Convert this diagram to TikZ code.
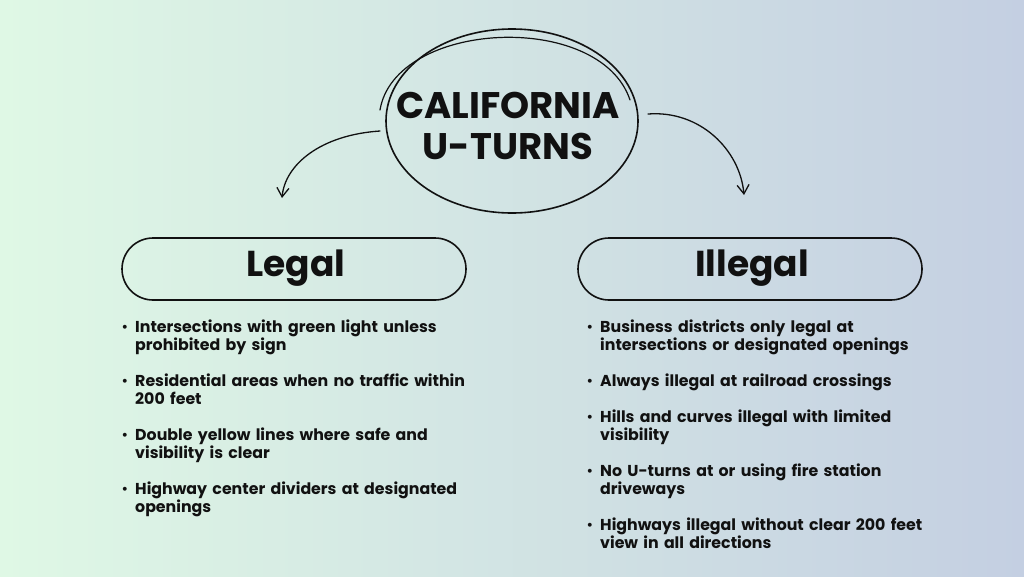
\documentclass[tikz,border=0pt]{standalone}
\usepackage{fontspec}
\setmainfont{Poppins}
\usetikzlibrary{positioning,arrows.meta}
\definecolor{bgleft}{HTML}{DFF8E5}
\definecolor{bgright}{HTML}{C4CFE2}
\definecolor{ink}{HTML}{111111}
\tikzset{
  sketch/.style={draw=ink, line width=1.6pt, line cap=round, line join=round},
  pill/.style={sketch, rounded corners=31pt},
  pointlist/.style={anchor=north west, text width=372pt, align=left, inner sep=0pt,
    font=\fontsize{15.8}{18}\selectfont\bfseries, text=ink},
  bendarrow/.style={sketch, line width=1.3pt, -{Straight Barb[length=9pt,width=12pt]}}
}
\begin{document}
\begin{tikzpicture}[x=1pt, y=-1pt]
  % background
  \shade[left color=bgleft, right color=bgright] (0,0) rectangle (1024,576);
  \useasboundingbox (0,0) rectangle (1024,576);

  % title
  \draw[sketch] (512,121) ellipse [x radius=126, y radius=92];
  \draw[sketch, line width=1.2pt] (380,110) .. controls (395,20) and (600,10) .. (630,100);
  \node[font=\fontsize{37}{41}\selectfont\bfseries, align=center, text=ink] (title) at (508,126) {CALIFORNIA\\U-TURNS};

  % categories
  \draw[pill] (122,238) rectangle (466,300);
  \node[font=\fontsize{36}{40}\selectfont\bfseries, text=ink] (legal) at (296,268) {Legal};
  \draw[pill] (578,238) rectangle (922,300);
  \node[font=\fontsize{36}{40}\selectfont\bfseries, text=ink] (illegal) at (752,268) {Illegal};

  % arrows
  \coordinate (la) at (380,131);
  \coordinate (lb) at (282,198);
  \coordinate (ra) at (648,114);
  \coordinate (rb) at (744,195);
  \draw[bendarrow] (la) .. controls (320,135) and (285,165) .. (lb);
  \draw[bendarrow] (ra) .. controls (700,110) and (740,150) .. (rb);

  % points
  \node[pointlist] (legalpts) at (110,306) {
    \begin{itemize}\setlength{\itemsep}{18pt}\setlength{\parskip}{0pt}\setlength{\labelsep}{7pt}
      \item Intersections with green light unless\\prohibited by sign
      \item Residential areas when no traffic within\\200 feet
      \item Double yellow lines where safe and\\visibility is clear
      \item Highway center dividers at designated\\openings
    \end{itemize}};
  \node[pointlist] (illegalpts) at (575,306) {
    \begin{itemize}\setlength{\itemsep}{18pt}\setlength{\parskip}{0pt}\setlength{\labelsep}{7pt}
      \item Business districts only legal at\\intersections or designated openings
      \item Always illegal at railroad crossings
      \item Hills and curves illegal with limited\\visibility
      \item No U-turns at or using fire station\\driveways
      \item Highways illegal without clear 200 feet\\view in all directions
    \end{itemize}};
\end{tikzpicture}
\end{document}
